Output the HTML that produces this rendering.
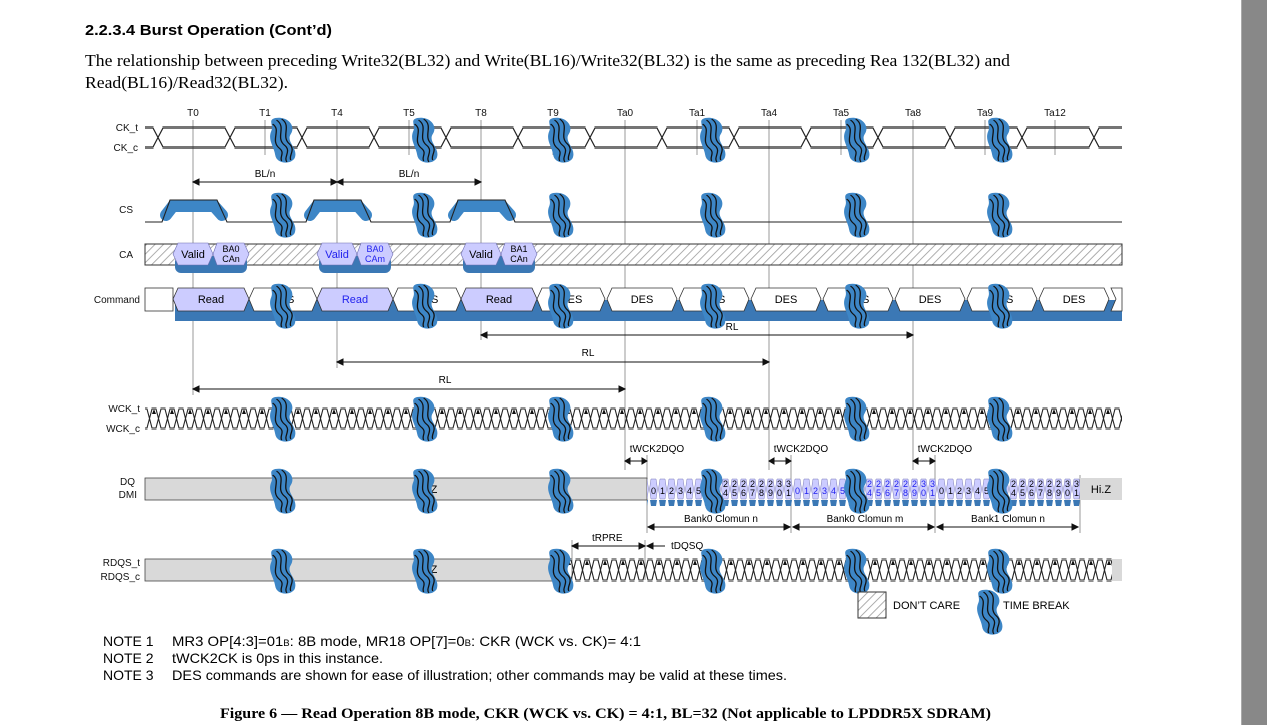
<!DOCTYPE html>
<html><head><meta charset="utf-8"><style>
html,body{margin:0;padding:0;background:#fff;width:1267px;height:725px;overflow:hidden}
svg{display:block}
.s{font-family:"Liberation Sans",sans-serif}
.r{font-family:"Liberation Serif",serif}
</style></head><body>
<svg width="1267" height="725" viewBox="0 0 1267 725" xmlns="http://www.w3.org/2000/svg">
<defs>
<pattern id="hatch" width="6" height="6" patternUnits="userSpaceOnUse" patternTransform="rotate(45)">
<rect width="6" height="6" fill="#fff"/><line x1="0" y1="0" x2="0" y2="6" stroke="#999" stroke-width="1.6"/></pattern>
<pattern id="ck" x="150" y="127" width="144" height="21" patternUnits="userSpaceOnUse">
<path d="M0,20 L3,20 L13,1 L75,1 L85,20 L144,20 M0,1 L3,1 L13,20 L75,20 L85,1 L144,1" fill="none" stroke="#222" stroke-width="1.2"/></pattern>
<pattern id="wck" x="145" y="408" width="18" height="21" patternUnits="userSpaceOnUse">
<path d="M0,1 L2,1 L7,20 L11,20 L16,1 L18,1 M0,20 L2,20 L7,1 L11,1 L16,20 L18,20" fill="none" stroke="#222" stroke-width="1.1"/>
<path d="M9,1 l-2,5 h4z" fill="#111"/></pattern>
<pattern id="rdqs" x="560" y="559" width="18" height="22" patternUnits="userSpaceOnUse">
<path d="M0,1 L2,1 L7,21 L11,21 L16,1 L18,1 M0,21 L2,21 L7,1 L11,1 L16,21 L18,21" fill="none" stroke="#222" stroke-width="1.1"/>
<path d="M9,1 l-2,5 h4z" fill="#111"/></pattern>
<pattern id="bits" x="649" y="478" width="9" height="30" patternUnits="userSpaceOnUse">
<path d="M1,22 L2,28 L7,28 L8,22z" fill="#3b78b5"/>
<path d="M0.5,11 L2,1 L7,1 L8.5,11 L7,21 L2,21z" fill="#ccccff" stroke="#7a7ab8" stroke-width="0.5"/></pattern>
<symbol id="tb" viewBox="-12 -24 24 48" overflow="visible">
<g transform="scale(1.3,1)">
<path d="M-6,-22 C4,-24 10,-14 6,-6 C2,2 12,8 9,18 C6,25 -5,24 -6,15 C-7,6 -12,0 -9,-9 C-7,-15 -12,-20 -6,-22Z" fill="#3d86c6"/>
<path d="M-5,-20 C3,-13 -6,-3 1,5 C7,11 0,17 3,22 M-1,-21 C7,-14 -2,-4 5,4 C10,10 4,16 6,20 M-8,-16 C-1,-10 -10,0 -3,8 C2,13 -3,17 -1,21" fill="none" stroke="#111" stroke-width="1"/>
</g>
</symbol>
</defs>

<rect x="1241" y="0" width="26" height="725" fill="#888"/>
<line x1="1241.5" y1="0" x2="1241.5" y2="725" fill="#999" stroke="#aaa"/>

<text x="85" y="35" class="s" font-size="15" font-weight="bold" textLength="247" lengthAdjust="spacingAndGlyphs">2.2.3.4  Burst Operation (Cont’d)</text>
<text x="85" y="66" class="r" font-size="17" textLength="925" lengthAdjust="spacingAndGlyphs">The relationship between preceding Write32(BL32) and Write(BL16)/Write32(BL32) is the same as preceding Rea 132(BL32) and</text>
<text x="85" y="88" class="r" font-size="17" textLength="203" lengthAdjust="spacingAndGlyphs">Read(BL16)/Read32(BL32).</text>

<g class="s" font-size="10" fill="#111" text-anchor="middle">
<text x="193" y="116">T0</text><text x="265" y="116">T1</text><text x="337" y="116">T4</text><text x="409" y="116">T5</text><text x="481" y="116">T8</text><text x="553" y="116">T9</text><text x="625" y="116">Ta0</text><text x="697" y="116">Ta1</text><text x="769" y="116">Ta4</text><text x="841" y="116">Ta5</text><text x="913" y="116">Ta8</text><text x="985" y="116">Ta9</text><text x="1055" y="116">Ta12</text>
</g>
<g class="s" font-size="10" fill="#111" text-anchor="end">
<text x="138" y="131">CK_t</text><text x="138" y="151">CK_c</text>
<text x="133" y="213">CS</text><text x="133" y="258">CA</text><text x="140" y="303">Command</text>
<text x="140" y="412">WCK_t</text><text x="140" y="432">WCK_c</text>
<text x="135" y="485">DQ</text><text x="137" y="498">DMI</text>
<text x="140" y="566">RDQS_t</text><text x="140" y="580">RDQS_c</text>
</g>

<g stroke="#999" stroke-width="1">
<line x1="193" y1="120" x2="193" y2="395"/><line x1="337" y1="120" x2="337" y2="368"/><line x1="481" y1="120" x2="481" y2="340"/>
<line x1="625" y1="120" x2="625" y2="470"/><line x1="769" y1="120" x2="769" y2="470"/><line x1="913" y1="120" x2="913" y2="470"/>
<line x1="265" y1="120" x2="265" y2="155"/><line x1="409" y1="120" x2="409" y2="155"/><line x1="553" y1="120" x2="553" y2="155"/>
<line x1="697" y1="120" x2="697" y2="155"/><line x1="841" y1="120" x2="841" y2="155"/><line x1="985" y1="120" x2="985" y2="155"/><line x1="1055" y1="120" x2="1055" y2="155"/>
<line x1="647" y1="455" x2="647" y2="533"/><line x1="791" y1="455" x2="791" y2="533"/><line x1="935" y1="455" x2="935" y2="533"/><line x1="1080" y1="475" x2="1080" y2="533"/>
<line x1="572" y1="540" x2="572" y2="580"/><line x1="645" y1="540" x2="645" y2="580"/>
</g>

<rect x="145" y="126" width="977" height="23" fill="url(#ck)"/>

<g stroke="#111" stroke-width="1" fill="#111">
<line x1="196" y1="182" x2="334" y2="182"/><path d="M193,182 l6,-3 v6z M337,182 l-6,-3 v6z"/>
<line x1="340" y1="182" x2="478" y2="182"/><path d="M337,182 l6,-3 v6z M481,182 l-6,-3 v6z"/>
</g>
<g class="s" font-size="10" text-anchor="middle"><text x="265" y="177">BL/n</text><text x="409" y="177">BL/n</text></g>

<g fill="none" stroke-linejoin="round" stroke-linecap="round">
<path d="M166,215 L173,206 L214,206 L222,215 M310,215 L317,206 L358,206 L366,215 M454,215 L461,206 L502,206 L510,215" stroke="#3d86c6" stroke-width="12"/>
</g>
<path d="M145,222 L162,222 L170,200 L217,200 L227,222 L306,222 L314,200 L361,200 L371,222 L450,222 L458,200 L505,200 L515,222 L1122,222" fill="none" stroke="#222" stroke-width="1.1"/>

<rect x="145" y="244" width="977" height="21" fill="url(#hatch)" stroke="#333" stroke-width="1"/>
<g stroke="#6d6db0" stroke-width="0.6">
<g fill="#3b78b5" stroke="none"><rect x="175" y="256" width="72" height="17" rx="6"/><rect x="319" y="256" width="72" height="17" rx="6"/><rect x="463" y="256" width="72" height="17" rx="6"/></g>
<path d="M173,254 L178,243 L208,243 L213,254 L208,265 L178,265z M213,254 L217,243 L244,243 L249,254 L244,265 L217,265z" fill="#ccccff"/>
<path d="M317,254 L322,243 L352,243 L357,254 L352,265 L322,265z M357,254 L361,243 L388,243 L393,254 L388,265 L361,265z" fill="#ccccff"/>
<path d="M461,254 L466,243 L496,243 L501,254 L496,265 L466,265z M501,254 L505,243 L532,243 L537,254 L532,265 L505,265z" fill="#ccccff"/>
</g>
<g class="s" font-size="10" text-anchor="middle">
<text x="193" y="258" font-size="11">Valid</text><text x="231" y="252" font-size="9">BA0</text><text x="231" y="262" font-size="9">CAn</text>
<text x="337" y="258" font-size="11" fill="#2222ee">Valid</text><text x="375" y="252" font-size="9" fill="#2222ee">BA0</text><text x="375" y="262" font-size="9" fill="#2222ee">CAm</text>
<text x="481" y="258" font-size="11">Valid</text><text x="519" y="252" font-size="9">BA1</text><text x="519" y="262" font-size="9">CAn</text>
</g>

<rect x="175" y="300" width="947" height="21" fill="#3b78b5"/>
<rect x="145" y="288" width="28" height="23" fill="#fff" stroke="#333" stroke-width="0.8"/>
<g stroke="#333" stroke-width="0.8">
<path d="M173,299 L178,288 L244,288 L249,299 L244,311 L178,311z" fill="#ccccff"/>
<path d="M249,299 L254,288 L312,288 L317,299 L312,311 L254,311z" fill="#fff"/>
<path d="M317,299 L322,288 L388,288 L393,299 L388,311 L322,311z" fill="#ccccff"/>
<path d="M393,299 L398,288 L456,288 L461,299 L456,311 L398,311z" fill="#fff"/>
<path d="M461,299 L466,288 L532,288 L537,299 L532,311 L466,311z" fill="#ccccff"/>
<path d="M537,299 L542,288 L600,288 L605,299 L600,311 L542,311z" fill="#fff"/>
<path d="M607,299 L612,288 L672,288 L677,299 L672,311 L612,311z" fill="#fff"/>
<path d="M679,299 L684,288 L744,288 L749,299 L744,311 L684,311z" fill="#fff"/>
<path d="M751,299 L756,288 L816,288 L821,299 L816,311 L756,311z" fill="#fff"/>
<path d="M823,299 L828,288 L888,288 L893,299 L888,311 L828,311z" fill="#fff"/>
<path d="M895,299 L900,288 L960,288 L965,299 L960,311 L900,311z" fill="#fff"/>
<path d="M967,299 L972,288 L1032,288 L1037,299 L1032,311 L972,311z" fill="#fff"/>
<path d="M1039,299 L1044,288 L1104,288 L1109,299 L1104,311 L1044,311z" fill="#fff"/>
<path d="M1111,288 L1122,288 L1122,311 L1111,311 L1116,299z" fill="#fff"/>
</g>
<g class="s" font-size="11" text-anchor="middle">
<text x="211" y="303">Read</text><text x="283" y="303">DES</text><text x="355" y="303" fill="#2222ee">Read</text><text x="427" y="303">DES</text><text x="499" y="303">Read</text>
<text x="571" y="303">DES</text><text x="642" y="303">DES</text><text x="714" y="303">DES</text><text x="786" y="303">DES</text><text x="858" y="303">DES</text><text x="930" y="303">DES</text><text x="1002" y="303">DES</text><text x="1074" y="303">DES</text>
</g>

<g stroke="#111" stroke-width="1" fill="#111">
<line x1="484" y1="335" x2="910" y2="335"/><path d="M481,335 l6,-3 v6z M913,335 l-6,-3 v6z"/>
<line x1="340" y1="362" x2="766" y2="362"/><path d="M337,362 l6,-3 v6z M769,362 l-6,-3 v6z"/>
<line x1="196" y1="389" x2="622" y2="389"/><path d="M193,389 l6,-3 v6z M625,389 l-6,-3 v6z"/>
</g>
<g class="s" font-size="10" text-anchor="middle"><text x="732" y="330">RL</text><text x="588" y="356">RL</text><text x="445" y="383">RL</text></g>

<rect x="145" y="407" width="977" height="23" fill="url(#wck)"/>

<g class="s" font-size="10" text-anchor="middle"><text x="657" y="452">tWCK2DQO</text><text x="801" y="452">tWCK2DQO</text><text x="945" y="452">tWCK2DQO</text></g>
<g stroke="#111" stroke-width="1" fill="#111">
<line x1="628" y1="461" x2="644" y2="461"/><path d="M625,461 l5,-3 v6z M647,461 l-5,-3 v6z"/>
<line x1="772" y1="461" x2="788" y2="461"/><path d="M769,461 l5,-3 v6z M791,461 l-5,-3 v6z"/>
<line x1="916" y1="461" x2="932" y2="461"/><path d="M913,461 l5,-3 v6z M935,461 l-5,-3 v6z"/>
</g>

<rect x="145" y="478" width="502" height="22" fill="#d9d9d9" stroke="#444" stroke-width="0.8"/>
<text x="427" y="493" class="s" font-size="11" text-anchor="middle">Hi-Z</text>
<rect x="647" y="478" width="433" height="30" fill="url(#bits)"/>
<rect x="1080" y="478" width="42" height="22" fill="#d9d9d9"/>
<text x="1101" y="493" class="s" font-size="11" text-anchor="middle">Hi.Z</text>
<g class="s" font-size="9" text-anchor="middle">
<text x="653.5" y="494">0</text><text x="662.5" y="494">1</text><text x="671.5" y="494">2</text><text x="680.5" y="494">3</text><text x="689.5" y="494">4</text><text x="698.5" y="494">5</text><text x="707.5" y="494">6</text>
<text x="725.5" y="487">2</text><text x="734.5" y="487">2</text><text x="743.5" y="487">2</text><text x="752.5" y="487">2</text><text x="761.5" y="487">2</text><text x="770.5" y="487">2</text><text x="779.5" y="487">3</text><text x="788.5" y="487">3</text>
<text x="725.5" y="496">4</text><text x="734.5" y="496">5</text><text x="743.5" y="496">6</text><text x="752.5" y="496">7</text><text x="761.5" y="496">8</text><text x="770.5" y="496">9</text><text x="779.5" y="496">0</text><text x="788.5" y="496">1</text>
<g fill="#2222ee">
<text x="797.5" y="494">0</text><text x="806.5" y="494">1</text><text x="815.5" y="494">2</text><text x="824.5" y="494">3</text><text x="833.5" y="494">4</text><text x="842.5" y="494">5</text><text x="851.5" y="494">6</text>
<text x="869.5" y="487">2</text><text x="878.5" y="487">2</text><text x="887.5" y="487">2</text><text x="896.5" y="487">2</text><text x="905.5" y="487">2</text><text x="914.5" y="487">2</text><text x="923.5" y="487">3</text><text x="932.5" y="487">3</text>
<text x="869.5" y="496">4</text><text x="878.5" y="496">5</text><text x="887.5" y="496">6</text><text x="896.5" y="496">7</text><text x="905.5" y="496">8</text><text x="914.5" y="496">9</text><text x="923.5" y="496">0</text><text x="932.5" y="496">1</text>
</g>
<text x="941.5" y="494">0</text><text x="950.5" y="494">1</text><text x="959.5" y="494">2</text><text x="968.5" y="494">3</text><text x="977.5" y="494">4</text><text x="986.5" y="494">5</text><text x="995.5" y="494">6</text>
<text x="1013.5" y="487">2</text><text x="1022.5" y="487">2</text><text x="1031.5" y="487">2</text><text x="1040.5" y="487">2</text><text x="1049.5" y="487">2</text><text x="1058.5" y="487">2</text><text x="1067.5" y="487">3</text><text x="1076.5" y="487">3</text>
<text x="1013.5" y="496">4</text><text x="1022.5" y="496">5</text><text x="1031.5" y="496">6</text><text x="1040.5" y="496">7</text><text x="1049.5" y="496">8</text><text x="1058.5" y="496">9</text><text x="1067.5" y="496">0</text><text x="1076.5" y="496">1</text>
</g>

<g class="s" font-size="10" text-anchor="middle"><text x="721" y="522">Bank0 Clomun n</text><text x="865" y="522">Bank0 Clomun m</text><text x="1008" y="522">Bank1 Clomun n</text></g>
<g stroke="#111" stroke-width="1" fill="#111">
<line x1="650" y1="527" x2="788" y2="527"/><path d="M648,527 l6,-3 v6z M790,527 l-6,-3 v6z"/>
<line x1="795" y1="527" x2="932" y2="527"/><path d="M793,527 l6,-3 v6z M934,527 l-6,-3 v6z"/>
<line x1="939" y1="527" x2="1076" y2="527"/><path d="M937,527 l6,-3 v6z M1078,527 l-6,-3 v6z"/>
<line x1="575" y1="546" x2="642" y2="546"/><path d="M572,546 l6,-3 v6z M645,546 l-6,-3 v6z"/>
<line x1="648" y1="546" x2="665" y2="546"/><path d="M647,546 l6,-3 v6z"/>
</g>
<g class="s" font-size="10"><text x="592" y="541">tRPRE</text><text x="671" y="549">tDQSQ</text></g>

<rect x="145" y="559" width="415" height="22" fill="#d9d9d9" stroke="#444" stroke-width="0.8"/>
<text x="427" y="573" class="s" font-size="11" text-anchor="middle">Hi-Z</text>
<rect x="560" y="558" width="552" height="24" fill="url(#rdqs)"/>
<rect x="1112" y="559" width="10" height="22" fill="#d9d9d9"/>

<g>
<use href="#tb" x="271" y="116" width="24" height="48"/><use href="#tb" x="413" y="116" width="24" height="48"/><use href="#tb" x="549" y="116" width="24" height="48"/><use href="#tb" x="701" y="116" width="24" height="48"/><use href="#tb" x="845" y="116" width="24" height="48"/><use href="#tb" x="988" y="116" width="24" height="48"/>
<use href="#tb" x="271" y="191" width="24" height="48"/><use href="#tb" x="413" y="191" width="24" height="48"/><use href="#tb" x="549" y="191" width="24" height="48"/><use href="#tb" x="701" y="191" width="24" height="48"/><use href="#tb" x="845" y="191" width="24" height="48"/><use href="#tb" x="988" y="191" width="24" height="48"/>
<use href="#tb" x="271" y="282" width="24" height="48"/><use href="#tb" x="413" y="282" width="24" height="48"/><use href="#tb" x="549" y="282" width="24" height="48"/><use href="#tb" x="701" y="282" width="24" height="48"/><use href="#tb" x="845" y="282" width="24" height="48"/><use href="#tb" x="988" y="282" width="24" height="48"/>
<use href="#tb" x="271" y="395" width="24" height="48"/><use href="#tb" x="413" y="395" width="24" height="48"/><use href="#tb" x="549" y="395" width="24" height="48"/><use href="#tb" x="701" y="395" width="24" height="48"/><use href="#tb" x="845" y="395" width="24" height="48"/><use href="#tb" x="988" y="395" width="24" height="48"/>
<use href="#tb" x="271" y="467" width="24" height="48"/><use href="#tb" x="413" y="467" width="24" height="48"/><use href="#tb" x="549" y="467" width="24" height="48"/><use href="#tb" x="701" y="467" width="24" height="48"/><use href="#tb" x="845" y="467" width="24" height="48"/><use href="#tb" x="988" y="467" width="24" height="48"/>
<use href="#tb" x="271" y="547" width="24" height="48"/><use href="#tb" x="413" y="547" width="24" height="48"/><use href="#tb" x="549" y="547" width="24" height="48"/><use href="#tb" x="701" y="547" width="24" height="48"/><use href="#tb" x="845" y="547" width="24" height="48"/><use href="#tb" x="988" y="547" width="24" height="48"/>
</g>

<rect x="858" y="592" width="28" height="26" fill="url(#hatch)" stroke="#333"/>
<text x="893" y="609" class="s" font-size="11">DON’T CARE</text>
<use href="#tb" x="978" y="588" width="24" height="48"/>
<text x="1003" y="609" class="s" font-size="11">TIME BREAK</text>

<g class="s" font-size="14">
<text x="103" y="646">NOTE 1</text><text x="172" y="646" textLength="469" lengthAdjust="spacingAndGlyphs">MR3 OP[4:3]=01<tspan font-size="9">B</tspan>: 8B mode, MR18 OP[7]=0<tspan font-size="9">B</tspan>: CKR (WCK vs. CK)= 4:1</text>
<text x="103" y="663">NOTE 2</text><text x="172" y="663" textLength="211" lengthAdjust="spacingAndGlyphs">tWCK2CK is 0ps in this instance.</text>
<text x="103" y="680">NOTE 3</text><text x="172" y="680" textLength="615" lengthAdjust="spacingAndGlyphs">DES commands are shown for ease of illustration; other commands may be valid at these times.</text>
</g>
<text x="220" y="718" class="r" font-size="15" font-weight="bold" textLength="771" lengthAdjust="spacingAndGlyphs">Figure 6 — Read Operation 8B mode, CKR (WCK vs. CK) = 4:1, BL=32 (Not applicable to LPDDR5X SDRAM)</text>
</svg>
</body></html>
